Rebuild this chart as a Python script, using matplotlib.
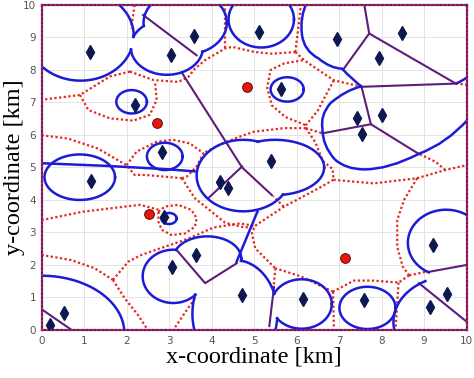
import numpy as np
import matplotlib
matplotlib.use("Agg")
import matplotlib.pyplot as plt
from matplotlib.path import Path
from matplotlib.patches import PathPatch

# users (diamonds) and red nodes
user_x = [1.14, 3.05, 3.59, 5.12, 6.95, 8.48, 7.94, 2.19, 5.64, 7.42, 8.0, 7.54, 2.84, 5.40,
          1.16, 4.2, 4.39, 2.88, 3.63, 3.07, 0.53, 0.2, 4.72, 6.15, 7.59, 9.21, 9.54, 9.13]
user_y = [8.55, 8.47, 9.05, 9.16, 8.95, 9.13, 8.37, 6.93, 7.42, 6.51, 6.62, 6.03, 5.48, 5.2,
          4.58, 4.56, 4.38, 3.47, 2.32, 1.94, 0.52, 0.15, 1.07, 0.95, 0.92, 2.62, 1.11, 0.71]
node_x = [2.72, 4.84, 2.53, 7.15]
node_y = [6.37, 7.48, 3.57, 2.22]

# coverage ellipses: cx, cy, rx, ry, visible angle range (deg)
cover = [
    (0.92, 9.05, 1.25, 1.38, 0, 360),
    (2.95, 8.70, 0.85, 0.85, 0, 360),
    (3.38, 9.45, 0.98, 0.98, 0, 360),
    (5.17, 9.555, 0.77, 0.865, 0, 360),
    (2.12, 7.02, 0.36, 0.36, 0, 360),
    (5.78, 7.40, 0.39, 0.375, 0, 360),
    (2.90, 5.34, 0.42, 0.42, 0, 360),
    (0.90, 4.70, 0.83, 0.70, 0, 360),
    (5.50, 5.00, 1.15, 0.85, 0, 360),
    (4.75, 4.75, 1.10, 1.10, 0, 360),
    (3.00, 3.43, 0.18, 0.17, 0, 360),
    (3.10, 1.65, 0.72, 0.82, 0, 360),
    (3.90, 2.20, 0.80, 0.68, 0, 360),
    (4.55, 0.50, 1.00, 1.65, 0, 360),
    (6.12, 0.80, 0.71, 0.76, 0, 360),
    (0.00, -0.10, 1.95, 1.77, 0, 360),
    (7.67, 0.68, 0.66, 0.65, 0, 360),
    (9.70, 0.25, 1.42, 1.42, 118, 270),
    (9.52, 2.68, 0.90, 1.02, -50, 243),
]

# traced blue outlines
blue_curves = [
    [(6.25, 10.1), (6.13, 9.6), (6.13, 9.07), (6.25, 8.65), (6.52, 8.35), (6.8, 8.12), (7.07, 8.04),
     (7.31, 7.73), (7.54, 7.48)],
    [(7.51, 7.49), (7.15, 7.3), (6.8, 6.98), (6.63, 6.6), (6.61, 6.2), (6.68, 5.7), (6.9, 5.25),
     (7.2, 5.02), (7.6, 4.94), (8.2, 5.06), (8.88, 5.42), (9.5, 5.85), (10.05, 6.5)],
    [(9.75, 7.58), (9.88, 7.66), (10.05, 7.8)],
]
blue_lines = [
    [(0, 5.13), (1.5, 5.05), (2.9, 4.95), (3.6, 4.88)],
    [(4.59, 2.1), (5.08, 3.64)],
]

purple_lines = [
    [(2.39, 9.69), (3.65, 8.45)],
    [(3.30, 7.92), (4.72, 5.0), (5.42, 4.15)],
    [(4.72, 5.03), (3.92, 4.05)],
    [(3.18, 2.46), (3.85, 1.44), (4.59, 2.05)],
    [(5.47, 1.32), (5.36, 0.12)],
    [(0, 0.64), (0.71, 0)],
    [(8.88, 1.44), (10, 0.26)],
    [(9.12, 1.79), (10, 2.0)],
    [(7.59, 10.05), (7.71, 9.12), (9.75, 7.58)],
    [(7.71, 9.12), (7.12, 8.05)],
    [(7.51, 7.48), (9.75, 7.58)],
    [(7.53, 7.48), (7.75, 6.33), (8.86, 5.43)],
    [(7.75, 6.33), (6.61, 6.05)],
]

red_lines = [
    [(2.19, 10), (2.11, 9.27)],
    [(2.08, 7.95), (1.61, 7.8), (0.905, 7.23), (0, 7.08)],
    [(0.905, 7.23), (1.1, 6.77), (1.61, 6.51), (2.16, 6.44), (2.55, 6.62), (2.71, 7.08), (2.67, 7.64)],
    [(2.08, 7.95), (2.63, 7.69), (3.22, 7.63), (3.45, 7.78), (3.61, 8.04), (3.85, 8.3), (4.32, 8.66),
     (4.48, 8.71), (5.02, 8.55), (5.42, 8.5), (5.97, 8.55)],
    [(4.32, 8.66), (4.32, 10)],
    [(5.97, 8.55), (6.05, 9.37), (6.1, 10)],
    [(5.97, 8.55), (6.22, 8.26), (6.88, 7.68), (7.51, 7.49)],
    [(6.15, 8.3), (5.71, 8.2), (5.39, 8.0), (5.31, 7.45), (5.42, 6.91), (5.74, 6.55), (6.22, 6.3)],
    [(6.88, 7.68), (6.72, 7.3), (6.5, 6.75), (6.22, 6.3), (6.22, 6.21)],
    [(6.22, 6.21), (5.71, 6.21), (5.0, 6.1), (4.6, 5.92), (4.2, 5.7), (3.81, 5.44)],
    [(6.22, 6.21), (6.61, 6.05)],
    [(6.22, 6.21), (6.44, 5.78), (6.62, 5.2), (6.85, 4.95), (6.87, 4.62)],
    [(6.87, 4.62), (7.82, 4.51), (8.84, 4.67), (9.5, 4.92), (10, 5.07)],
    [(9.5, 4.92), (9.28, 5.17), (8.88, 5.42)],
    [(8.84, 4.67), (8.53, 4.0), (8.37, 3.38), (8.37, 2.56), (8.5, 1.95), (8.65, 1.68)],
    [(8.65, 1.68), (9.04, 1.79), (9.12, 1.79)],
    [(8.65, 1.68), (8.4, 1.46), (7.8, 1.52), (7.35, 1.52), (6.86, 1.18)],
    [(8.4, 1.46), (8.33, 0)],
    [(6.86, 1.18), (6.88, 0)],
    [(6.86, 1.18), (6.1, 1.65), (5.5, 1.9)],
    [(5.5, 1.9), (5.46, 1.3)],
    [(6.87, 4.62), (6.52, 4.36), (5.7, 3.79), (5.02, 3.2), (4.95, 2.97), (5.03, 2.51), (5.5, 1.9)],
    [(5.7, 3.79), (5.45, 4.12)],
    [(3.3, 4.67), (3.61, 4.05), (4.0, 3.64), (4.32, 3.3), (4.79, 3.15), (5.02, 3.2)],
    [(1.68, 1.54), (2.04, 2.1), (2.35, 2.31), (2.79, 2.51), (3.26, 2.72), (3.65, 2.92), (4.04, 3.15),
     (4.67, 3.28), (5.02, 3.2)],
    [(0, 2.31), (0.7, 2.15), (1.25, 1.9), (1.68, 1.54)],
    [(1.68, 1.54), (1.96, 0.97), (2.27, 0.46), (2.5, 0)],
    [(3.61, 0.97), (3.42, 0.62), (3.1, 0)],
    [(2.75, 3.64), (2.91, 3.8), (3.22, 3.85), (3.53, 3.69), (3.65, 3.44), (3.61, 3.18), (3.38, 2.97),
     (3.06, 2.92), (2.83, 3.08), (2.75, 3.33), (2.75, 3.64)],
    [(0, 3.38), (0.98, 3.64), (1.61, 3.74), (2.32, 3.85), (2.75, 3.7)],
    [(0, 5.99), (0.62, 5.89), (1.33, 5.58), (2.0, 5.07), (2.19, 4.77), (2.44, 4.77), (3.3, 4.67)],
    [(2.0, 5.07), (2.24, 5.49), (2.71, 5.79), (3.1, 5.85), (3.49, 5.74), (3.81, 5.44)],
    [(3.3, 4.67), (3.42, 4.72), (3.65, 5.03), (3.81, 5.44)],
    [(9.75, 7.59), (10, 7.54)],
]

BLUE = "#1c1cd6"
PURPLE = "#5e1d7c"
RED = "#e4261e"


def smooth_path(pts):
    pts = np.asarray(pts, float)
    verts = [pts[0]]
    codes = [Path.MOVETO]
    i = 0
    while i + 2 < len(pts):
        a, b, c = pts[i], pts[i + 1], pts[i + 2]
        verts += [2 * b - (a + c) / 2, c]
        codes += [Path.CURVE3, Path.CURVE3]
        i += 2
    if i + 1 < len(pts):
        verts.append(pts[i + 1])
        codes.append(Path.LINETO)
    return Path(verts, codes)


fig = plt.figure(figsize=(4.74, 3.78), dpi=100)
ax = fig.add_axes([0.0876, 0.127, 0.8966, 0.86])
ax.set_xlim(0, 10)
ax.set_ylim(0, 10)
ax.set_xticks(range(11))
ax.set_yticks(range(11))
ax.grid(True, color="#e4e4e4", lw=0.7)
ax.set_axisbelow(True)
ax.tick_params(length=0, labelsize=7.5, labelcolor="#555555", pad=4)

# red dotted cell borders
for seg in red_lines:
    xs, ys = zip(*seg)
    ax.plot(xs, ys, color=RED, lw=1.6, ls=(0, (1, 1.1)), zorder=2)

# purple edges
for seg in purple_lines:
    xs, ys = zip(*seg)
    ax.plot(xs, ys, color=PURPLE, lw=1.5, zorder=3)

# blue coverage outlines (outer boundary of the union)
for k, (cx, cy, rx, ry, t0, t1) in enumerate(cover):
    t = np.radians(np.linspace(t0, t1, 720))
    x = cx + rx * np.cos(t)
    y = cy + ry * np.sin(t)
    hide = np.zeros_like(x, bool)
    for j, (ox, oy, orx, ory, _, _) in enumerate(cover):
        if j != k:
            hide |= ((x - ox) / orx) ** 2 + ((y - oy) / ory) ** 2 < 0.985
    x[hide] = np.nan
    ax.plot(x, y, color=BLUE, lw=1.8, zorder=4)

for pts in blue_curves:
    ax.add_patch(PathPatch(smooth_path(pts), fill=False, ec=BLUE, lw=1.8, zorder=4))
for seg in blue_lines:
    xs, ys = zip(*seg)
    ax.plot(xs, ys, color=BLUE, lw=1.8, zorder=4)

ax.plot(user_x, user_y, ls="none", marker="d", ms=7.5, color="#0d1850", zorder=6)
ax.plot(node_x, node_y, ls="none", marker="o", ms=7, mfc="#e8160c", mec="#5a0a0a", mew=0.7, zorder=6)

for s in ax.spines.values():
    s.set_color(PURPLE)
    s.set_linewidth(1.6)
for xs, ys in [([0, 10], [0, 0]), ([0, 10], [10, 10]), ([0, 0], [0, 10]), ([10, 10], [0, 10])]:
    ax.plot(xs, ys, color=RED, lw=1.2, ls=(0, (1, 1.5)), clip_on=False, zorder=7)

ax.set_xlabel("x-coordinate [km]", family="Liberation Serif", fontsize=17.5, labelpad=1)
ax.set_ylabel("y-coordinate [km]", family="Liberation Serif", fontsize=17.5)
ax.yaxis.set_label_coords(-0.04, 0.5)

fig.savefig("out.png", dpi=100)
